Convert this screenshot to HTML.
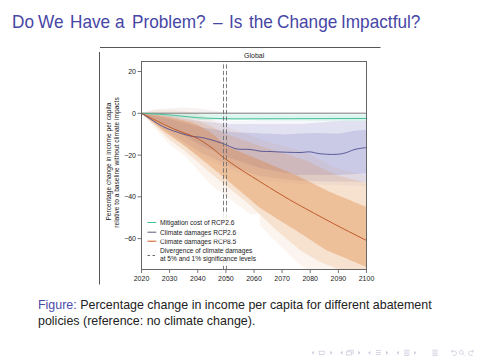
<!DOCTYPE html>
<html><head><meta charset="utf-8"><style>
html,body{margin:0;padding:0;background:#fff;}
body{width:480px;height:360px;position:relative;overflow:hidden;font-family:"Liberation Sans",sans-serif;}
.t{position:absolute;white-space:nowrap;}
#title .tw{position:absolute;white-space:nowrap;top:9.6px;font-size:18.5px;color:rgb(70,70,165);line-height:24px;transform:scaleX(0.93);transform-origin:0 0;}
#cap{left:38px;top:297px;font-size:12.9px;color:#222;line-height:15.6px;transform:scaleX(0.966);transform-origin:0 0;}
#cap .f{color:rgb(75,75,170);}
svg text{font-family:"Liberation Sans",sans-serif;fill:#222;}
.tk{font-size:7px;}
.lg{font-size:6.6px;}
</style></head><body>
<div id="title"><span class="tw" style="left:11.97px">Do</span><span class="tw" style="left:37.50px">We</span><span class="tw" style="left:70.32px">Have</span><span class="tw" style="left:115.32px">a</span><span class="tw" style="left:131.57px">Problem?</span><span class="tw" style="left:212.50px">&#8211;</span><span class="tw" style="left:228.57px">Is</span><span class="tw" style="left:248.75px">the</span><span class="tw" style="left:276.57px">Change</span><span class="tw" style="left:340.57px">Impactful?</span></div>
<svg width="480" height="360" style="position:absolute;left:0;top:0">
<line x1="100" y1="47.5" x2="380.5" y2="47.5" stroke="#555" stroke-width="1"/>
<line x1="99.5" y1="52" x2="99.5" y2="284.5" stroke="#555" stroke-width="1"/>
<text x="244" y="58" class="lg" style="font-size:7px">Global</text>
<defs><clipPath id="cp"><rect x="141.5" y="61.5" width="225" height="208"/></clipPath></defs>
<g clip-path="url(#cp)">
<path d="M141.5,113.3 L144.0,113.4 L146.5,113.5 L149.0,113.6 L151.5,113.7 L154.0,113.8 L156.5,113.9 L159.0,114.0 L161.5,114.1 L164.0,114.2 L166.5,114.4 L169.0,114.5 L171.5,114.7 L174.0,115.1 L176.5,115.5 L179.0,115.8 L181.5,116.2 L184.0,116.6 L186.5,117.0 L189.0,117.3 L191.5,117.7 L194.0,118.1 L196.5,118.5 L199.0,118.8 L201.5,119.1 L204.0,119.3 L206.5,119.4 L209.0,119.6 L211.5,119.8 L214.0,119.9 L216.5,120.1 L219.0,120.3 L221.5,120.4 L224.0,120.6 L226.5,120.8 L229.0,120.9 L231.5,121.0 L234.0,121.0 L236.5,121.0 L239.0,120.9 L241.5,120.9 L244.0,120.9 L246.5,120.9 L249.0,120.9 L251.5,120.8 L254.0,120.8 L256.5,120.8 L259.0,120.8 L261.5,120.8 L264.0,120.8 L266.5,120.7 L269.0,120.7 L271.5,120.7 L274.0,120.7 L276.5,120.7 L279.0,120.7 L281.5,120.6 L284.0,120.6 L286.5,120.6 L289.0,120.6 L291.5,120.6 L294.0,120.5 L296.5,120.5 L299.0,120.5 L301.5,120.5 L304.0,120.5 L306.5,120.5 L309.0,120.5 L311.5,120.5 L314.0,120.5 L316.5,120.5 L319.0,120.5 L321.5,120.5 L324.0,120.5 L326.5,120.5 L329.0,120.5 L331.5,120.5 L334.0,120.5 L336.5,120.5 L339.0,120.5 L341.5,120.5 L344.0,120.5 L346.5,120.5 L349.0,120.5 L351.5,120.5 L354.0,120.5 L356.5,120.5 L359.0,120.5 L361.5,120.5 L364.0,120.5 L366.5,120.5 L366.5,186.0 L364.0,185.9 L361.5,185.8 L359.0,185.8 L356.5,185.7 L354.0,185.6 L351.5,185.5 L349.0,185.5 L346.5,185.4 L344.0,185.3 L341.5,185.2 L339.0,185.2 L336.5,185.1 L334.0,185.0 L331.5,184.9 L329.0,184.9 L326.5,184.8 L324.0,184.7 L321.5,184.6 L319.0,184.6 L316.5,184.5 L314.0,184.4 L311.5,184.3 L309.0,184.3 L306.5,184.2 L304.0,184.1 L301.5,184.0 L299.0,183.9 L296.5,183.7 L294.0,183.4 L291.5,183.2 L289.0,182.9 L286.5,182.7 L284.0,182.4 L281.5,182.2 L279.0,181.9 L276.5,181.7 L274.0,181.4 L271.5,181.2 L269.0,180.9 L266.5,180.7 L264.0,180.4 L261.5,180.2 L259.0,179.7 L256.5,178.8 L254.0,178.0 L251.5,177.2 L249.0,176.3 L246.5,175.5 L244.0,174.7 L241.5,173.8 L239.0,173.0 L236.5,172.2 L234.0,171.3 L231.5,170.5 L229.0,169.5 L226.5,168.4 L224.0,167.2 L221.5,166.0 L219.0,164.9 L216.5,163.7 L214.0,162.5 L211.5,161.4 L209.0,160.2 L206.5,159.0 L204.0,157.9 L201.5,156.7 L199.0,155.3 L196.5,153.7 L194.0,152.0 L191.5,150.3 L189.0,148.7 L186.5,147.0 L184.0,145.3 L181.5,143.7 L179.0,142.0 L176.5,140.3 L174.0,138.7 L171.5,137.0 L169.0,135.2 L166.5,133.2 L164.0,131.2 L161.5,129.2 L159.0,127.2 L156.5,125.2 L154.0,123.3 L151.5,121.3 L149.0,119.3 L146.5,117.3 L144.0,115.3 L141.5,113.3 Z" fill="rgb(110,110,190)" fill-opacity="0.06"/>
<path d="M141.5,113.3 L144.0,113.5 L146.5,113.8 L149.0,114.0 L151.5,114.2 L154.0,114.5 L156.5,114.7 L159.0,115.0 L161.5,115.2 L164.0,115.4 L166.5,115.7 L169.0,115.9 L171.5,116.2 L174.0,116.7 L176.5,117.1 L179.0,117.5 L181.5,117.9 L184.0,118.3 L186.5,118.8 L189.0,119.2 L191.5,119.6 L194.0,120.0 L196.5,120.4 L199.0,120.8 L201.5,121.2 L204.0,121.4 L206.5,121.7 L209.0,121.9 L211.5,122.2 L214.0,122.4 L216.5,122.7 L219.0,122.9 L221.5,123.2 L224.0,123.4 L226.5,123.7 L229.0,123.9 L231.5,124.0 L234.0,124.0 L236.5,124.0 L239.0,124.0 L241.5,124.0 L244.0,124.0 L246.5,124.0 L249.0,124.0 L251.5,124.0 L254.0,124.0 L256.5,124.0 L259.0,124.0 L261.5,124.0 L264.0,124.0 L266.5,124.0 L269.0,124.0 L271.5,124.0 L274.0,124.0 L276.5,124.0 L279.0,124.0 L281.5,124.0 L284.0,124.0 L286.5,124.0 L289.0,124.0 L291.5,124.0 L294.0,124.0 L296.5,124.0 L299.0,124.0 L301.5,123.9 L304.0,123.7 L306.5,123.5 L309.0,123.3 L311.5,123.1 L314.0,123.0 L316.5,122.8 L319.0,122.6 L321.5,122.4 L324.0,122.2 L326.5,122.0 L329.0,121.8 L331.5,121.6 L334.0,121.5 L336.5,121.3 L339.0,121.1 L341.5,121.0 L344.0,121.0 L346.5,121.0 L349.0,121.0 L351.5,121.0 L354.0,121.0 L356.5,121.0 L359.0,121.0 L361.5,121.0 L364.0,121.0 L366.5,121.0 L366.5,182.0 L364.0,182.0 L361.5,181.9 L359.0,181.9 L356.5,181.8 L354.0,181.8 L351.5,181.8 L349.0,181.7 L346.5,181.7 L344.0,181.7 L341.5,181.6 L339.0,181.6 L336.5,181.5 L334.0,181.5 L331.5,181.5 L329.0,181.4 L326.5,181.4 L324.0,181.4 L321.5,181.3 L319.0,181.3 L316.5,181.2 L314.0,181.2 L311.5,181.2 L309.0,181.1 L306.5,181.1 L304.0,181.1 L301.5,181.0 L299.0,180.9 L296.5,180.6 L294.0,180.2 L291.5,179.9 L289.0,179.6 L286.5,179.3 L284.0,179.0 L281.5,178.7 L279.0,178.4 L276.5,178.1 L274.0,177.8 L271.5,177.4 L269.0,177.1 L266.5,176.8 L264.0,176.5 L261.5,176.2 L259.0,175.7 L256.5,174.8 L254.0,174.0 L251.5,173.2 L249.0,172.3 L246.5,171.5 L244.0,170.7 L241.5,169.8 L239.0,169.0 L236.5,168.2 L234.0,167.3 L231.5,166.5 L229.0,165.5 L226.5,164.4 L224.0,163.2 L221.5,162.0 L219.0,160.9 L216.5,159.7 L214.0,158.5 L211.5,157.4 L209.0,156.2 L206.5,155.0 L204.0,153.9 L201.5,152.7 L199.0,151.4 L196.5,149.8 L194.0,148.2 L191.5,146.6 L189.0,145.0 L186.5,143.4 L184.0,141.9 L181.5,140.3 L179.0,138.7 L176.5,137.1 L174.0,135.5 L171.5,133.9 L169.0,132.3 L166.5,130.6 L164.0,128.9 L161.5,127.1 L159.0,125.4 L156.5,123.7 L154.0,121.9 L151.5,120.2 L149.0,118.5 L146.5,116.8 L144.0,115.0 L141.5,113.3 Z" fill="rgb(110,110,190)" fill-opacity="0.15"/>
<path d="M141.5,113.3 L144.0,113.8 L146.5,114.3 L149.0,114.8 L151.5,115.3 L154.0,115.8 L156.5,116.3 L159.0,116.8 L161.5,117.3 L164.0,117.8 L166.5,118.3 L169.0,118.8 L171.5,119.4 L174.0,120.1 L176.5,120.7 L179.0,121.4 L181.5,122.1 L184.0,122.7 L186.5,123.4 L189.0,124.1 L191.5,124.7 L194.0,125.4 L196.5,126.1 L199.0,126.7 L201.5,127.2 L204.0,127.7 L206.5,128.1 L209.0,128.5 L211.5,128.9 L214.0,129.3 L216.5,129.8 L219.0,130.2 L221.5,130.6 L224.0,131.0 L226.5,131.4 L229.0,131.8 L231.5,132.1 L234.0,132.2 L236.5,132.3 L239.0,132.4 L241.5,132.5 L244.0,132.6 L246.5,132.7 L249.0,132.8 L251.5,132.9 L254.0,133.0 L256.5,133.1 L259.0,133.3 L261.5,133.4 L264.0,133.5 L266.5,133.6 L269.0,133.7 L271.5,133.8 L274.0,133.9 L276.5,134.0 L279.0,134.1 L281.5,134.2 L284.0,134.4 L286.5,134.3 L289.0,134.2 L291.5,134.0 L294.0,133.9 L296.5,133.8 L299.0,133.6 L301.5,133.5 L304.0,133.3 L306.5,133.2 L309.0,133.1 L311.5,133.0 L314.0,133.1 L316.5,133.1 L319.0,133.2 L321.5,133.2 L324.0,133.2 L326.5,133.3 L329.0,133.3 L331.5,133.4 L334.0,133.4 L336.5,133.4 L339.0,133.5 L341.5,133.2 L344.0,132.7 L346.5,132.2 L349.0,131.7 L351.5,131.2 L354.0,130.7 L356.5,130.4 L359.0,130.3 L361.5,130.2 L364.0,130.1 L366.5,130.0 L366.5,173.5 L364.0,173.6 L361.5,173.7 L359.0,173.9 L356.5,174.0 L354.0,174.1 L351.5,174.2 L349.0,174.4 L346.5,174.5 L344.0,174.6 L341.5,174.7 L339.0,174.9 L336.5,175.0 L334.0,175.0 L331.5,175.0 L329.0,175.0 L326.5,175.0 L324.0,175.0 L321.5,175.0 L319.0,175.0 L316.5,175.0 L314.0,175.0 L311.5,175.0 L309.0,175.0 L306.5,175.0 L304.0,175.0 L301.5,175.0 L299.0,175.0 L296.5,175.0 L294.0,174.6 L291.5,174.1 L289.0,173.6 L286.5,173.2 L284.0,172.7 L281.5,172.2 L279.0,171.7 L276.5,171.2 L274.0,170.7 L271.5,170.2 L269.0,169.8 L266.5,169.3 L264.0,168.8 L261.5,168.3 L259.0,167.7 L256.5,166.8 L254.0,166.0 L251.5,165.2 L249.0,164.3 L246.5,163.5 L244.0,162.7 L241.5,161.8 L239.0,161.0 L236.5,160.2 L234.0,159.3 L231.5,158.5 L229.0,157.6 L226.5,156.5 L224.0,155.4 L221.5,154.3 L219.0,153.2 L216.5,152.2 L214.0,151.1 L211.5,150.0 L209.0,148.9 L206.5,147.8 L204.0,146.7 L201.5,145.7 L199.0,144.4 L196.5,142.9 L194.0,141.4 L191.5,139.9 L189.0,138.4 L186.5,136.9 L184.0,135.4 L181.5,133.9 L179.0,132.4 L176.5,130.9 L174.0,129.4 L171.5,127.9 L169.0,126.5 L166.5,125.3 L164.0,124.1 L161.5,122.9 L159.0,121.7 L156.5,120.5 L154.0,119.3 L151.5,118.1 L149.0,116.9 L146.5,115.7 L144.0,114.5 L141.5,113.3 Z" fill="rgb(110,110,190)" fill-opacity="0.2"/>
<path d="M141.5,113.3 L144.0,112.7 L146.5,112.1 L149.0,111.5 L151.5,110.9 L154.0,110.2 L156.5,110.0 L159.0,110.0 L161.5,110.0 L164.0,110.0 L166.5,110.0 L169.0,110.0 L171.5,110.0 L174.0,110.0 L176.5,110.2 L179.0,110.6 L181.5,111.0 L184.0,111.3 L186.5,111.7 L189.0,112.1 L191.5,112.5 L194.0,112.8 L196.5,113.6 L199.0,114.6 L201.5,115.6 L204.0,116.6 L206.5,117.6 L209.0,118.6 L211.5,119.7 L214.0,120.8 L216.5,121.9 L219.0,123.0 L221.5,124.2 L224.0,125.3 L226.5,126.4 L229.0,127.5 L231.5,128.6 L234.0,129.5 L236.5,130.4 L239.0,131.3 L241.5,132.3 L244.0,133.2 L246.5,134.1 L249.0,135.1 L251.5,136.0 L254.0,136.9 L256.5,137.8 L259.0,138.8 L261.5,139.7 L264.0,140.6 L266.5,141.4 L269.0,142.1 L271.5,142.8 L274.0,143.5 L276.5,144.2 L279.0,144.8 L281.5,145.5 L284.0,146.2 L286.5,146.9 L289.0,147.6 L291.5,148.3 L294.0,149.0 L296.5,149.7 L299.0,150.3 L301.5,151.0 L304.0,151.7 L306.5,152.8 L309.0,154.1 L311.5,155.4 L314.0,156.6 L316.5,157.9 L319.0,159.2 L321.5,160.5 L324.0,161.8 L326.5,163.1 L329.0,164.4 L331.5,165.7 L334.0,167.0 L336.5,168.1 L339.0,168.8 L341.5,169.4 L344.0,170.1 L346.5,170.8 L349.0,171.4 L351.5,172.1 L354.0,172.7 L356.5,173.4 L359.0,174.0 L361.5,174.7 L364.0,175.3 L366.5,176.0 L366.5,300.0 L364.0,299.0 L361.5,297.9 L359.0,296.9 L356.5,295.9 L354.0,294.9 L351.5,293.8 L349.0,292.8 L346.5,291.8 L344.0,290.8 L341.5,289.7 L339.0,288.7 L336.5,287.7 L334.0,286.6 L331.5,285.6 L329.0,284.3 L326.5,282.7 L324.0,281.0 L321.5,279.3 L319.0,277.7 L316.5,276.0 L314.0,274.3 L311.5,272.7 L309.0,271.0 L306.5,269.3 L304.0,267.7 L301.5,266.0 L299.0,264.0 L296.5,261.6 L294.0,259.2 L291.5,256.8 L289.0,254.3 L286.5,251.9 L284.0,249.5 L281.5,247.1 L279.0,244.7 L276.5,242.2 L274.0,239.8 L271.5,237.4 L269.0,235.0 L266.5,232.3 L264.0,229.6 L261.5,226.8 L259.0,224.0 L256.5,221.2 L254.0,218.4 L251.5,215.7 L249.0,213.2 L246.5,211.4 L244.0,209.5 L241.5,207.6 L239.0,205.8 L236.5,203.9 L234.0,202.0 L231.5,200.1 L229.0,198.2 L226.5,196.4 L224.0,194.5 L221.5,192.6 L219.0,190.8 L216.5,188.9 L214.0,187.0 L211.5,185.1 L209.0,182.9 L206.5,180.1 L204.0,177.3 L201.5,174.5 L199.0,171.7 L196.5,168.9 L194.0,166.1 L191.5,163.3 L189.0,160.5 L186.5,157.7 L184.0,155.3 L181.5,153.4 L179.0,151.6 L176.5,149.8 L174.0,147.9 L171.5,146.1 L169.0,143.9 L166.5,141.1 L164.0,138.3 L161.5,135.5 L159.0,132.8 L156.5,130.0 L154.0,127.2 L151.5,124.4 L149.0,121.6 L146.5,118.9 L144.0,116.1 L141.5,113.3 Z" fill="rgb(222,125,45)" fill-opacity="0.08"/>
<path d="M141.5,113.3 L144.0,113.5 L146.5,113.8 L149.0,114.0 L151.5,114.2 L154.0,114.5 L156.5,114.7 L159.0,115.0 L161.5,115.2 L164.0,115.4 L166.5,115.7 L169.0,115.9 L171.5,116.3 L174.0,116.7 L176.5,117.1 L179.0,117.6 L181.5,118.0 L184.0,118.5 L186.5,118.9 L189.0,119.3 L191.5,119.8 L194.0,120.3 L196.5,120.8 L199.0,121.3 L201.5,122.1 L204.0,123.2 L206.5,124.2 L209.0,125.3 L211.5,126.4 L214.0,127.5 L216.5,128.9 L219.0,130.2 L221.5,131.6 L224.0,132.9 L226.5,134.2 L229.0,135.1 L231.5,135.9 L234.0,136.8 L236.5,137.7 L239.0,138.6 L241.5,139.5 L244.0,140.4 L246.5,141.2 L249.0,142.1 L251.5,143.0 L254.0,143.9 L256.5,144.8 L259.0,145.6 L261.5,146.5 L264.0,147.2 L266.5,148.0 L269.0,148.8 L271.5,149.6 L274.0,150.4 L276.5,151.1 L279.0,151.9 L281.5,152.7 L284.0,153.5 L286.5,154.2 L289.0,155.0 L291.5,155.8 L294.0,156.6 L296.5,157.4 L299.0,158.1 L301.5,158.9 L304.0,159.7 L306.5,160.7 L309.0,161.9 L311.5,163.1 L314.0,164.4 L316.5,165.6 L319.0,166.8 L321.5,168.0 L324.0,169.2 L326.5,170.4 L329.0,171.6 L331.5,172.8 L334.0,174.0 L336.5,175.1 L339.0,175.8 L341.5,176.4 L344.0,177.1 L346.5,177.8 L349.0,178.4 L351.5,179.1 L354.0,179.7 L356.5,180.4 L359.0,181.0 L361.5,181.7 L364.0,182.3 L366.5,183.0 L366.5,280.0 L364.0,279.1 L361.5,278.1 L359.0,277.2 L356.5,276.3 L354.0,275.3 L351.5,274.4 L349.0,273.5 L346.5,272.6 L344.0,271.6 L341.5,270.6 L339.0,269.6 L336.5,268.6 L334.0,267.6 L331.5,266.6 L329.0,265.6 L326.5,264.6 L324.0,263.6 L321.5,262.6 L319.0,261.4 L316.5,259.9 L314.0,258.4 L311.5,256.9 L309.0,255.4 L306.5,253.9 L304.0,252.4 L301.5,250.9 L299.0,249.2 L296.5,247.1 L294.0,245.0 L291.5,242.9 L289.0,240.8 L286.5,238.7 L284.0,236.6 L281.5,234.5 L279.0,232.4 L276.5,230.3 L274.0,228.0 L271.5,225.6 L269.0,223.2 L266.5,220.8 L264.0,218.4 L261.5,216.0 L259.0,213.6 L256.5,211.2 L254.0,208.8 L251.5,206.4 L249.0,204.2 L246.5,202.2 L244.0,200.1 L241.5,198.1 L239.0,196.1 L236.5,194.1 L234.0,192.0 L231.5,190.0 L229.0,188.0 L226.5,186.0 L224.0,184.0 L221.5,181.9 L219.0,179.9 L216.5,177.9 L214.0,175.9 L211.5,173.8 L209.0,171.7 L206.5,169.5 L204.0,167.4 L201.5,165.2 L199.0,163.1 L196.5,160.9 L194.0,158.8 L191.5,156.6 L189.0,154.4 L186.5,152.3 L184.0,150.3 L181.5,148.4 L179.0,146.6 L176.5,144.8 L174.0,142.9 L171.5,141.1 L169.0,139.1 L166.5,136.7 L164.0,134.4 L161.5,132.0 L159.0,129.7 L156.5,127.4 L154.0,125.0 L151.5,122.7 L149.0,120.3 L146.5,118.0 L144.0,115.6 L141.5,113.3 Z" fill="rgb(222,125,45)" fill-opacity="0.16"/>
<path d="M141.5,113.3 L144.0,113.6 L146.5,113.9 L149.0,114.2 L151.5,114.5 L154.0,114.8 L156.5,115.1 L159.0,115.4 L161.5,115.8 L164.0,116.3 L166.5,116.8 L169.0,117.3 L171.5,117.8 L174.0,118.3 L176.5,118.8 L179.0,119.4 L181.5,120.0 L184.0,120.6 L186.5,121.2 L189.0,121.8 L191.5,122.6 L194.0,123.6 L196.5,124.6 L199.0,125.6 L201.5,126.9 L204.0,128.5 L206.5,130.0 L209.0,131.5 L211.5,133.1 L214.0,134.9 L216.5,137.2 L219.0,139.5 L221.5,141.8 L224.0,144.2 L226.5,146.2 L229.0,147.2 L231.5,148.3 L234.0,149.3 L236.5,150.3 L239.0,151.4 L241.5,152.4 L244.0,153.4 L246.5,154.4 L249.0,155.5 L251.5,156.5 L254.0,157.5 L256.5,158.6 L259.0,159.6 L261.5,160.6 L264.0,161.7 L266.5,162.8 L269.0,163.8 L271.5,164.9 L274.0,165.9 L276.5,167.0 L279.0,168.1 L281.5,169.1 L284.0,170.2 L286.5,171.3 L289.0,172.3 L291.5,173.4 L294.0,174.4 L296.5,175.5 L299.0,176.6 L301.5,177.8 L304.0,179.0 L306.5,180.2 L309.0,181.5 L311.5,182.8 L314.0,184.0 L316.5,185.2 L319.0,186.5 L321.5,187.8 L324.0,189.0 L326.5,190.2 L329.0,191.5 L331.5,192.6 L334.0,193.6 L336.5,194.7 L339.0,195.7 L341.5,196.7 L344.0,197.8 L346.5,198.8 L349.0,199.8 L351.5,200.8 L354.0,201.9 L356.5,202.9 L359.0,203.9 L361.5,204.9 L364.0,206.0 L366.5,207.0 L366.5,267.0 L364.0,266.0 L361.5,264.9 L359.0,263.9 L356.5,262.8 L354.0,261.8 L351.5,260.7 L349.0,259.7 L346.5,258.6 L344.0,257.6 L341.5,256.5 L339.0,255.5 L336.5,254.4 L334.0,253.4 L331.5,252.3 L329.0,251.3 L326.5,250.2 L324.0,248.7 L321.5,247.1 L319.0,245.4 L316.5,243.8 L314.0,242.2 L311.5,240.5 L309.0,238.9 L306.5,237.2 L304.0,235.6 L301.5,234.0 L299.0,232.4 L296.5,230.8 L294.0,229.3 L291.5,227.7 L289.0,226.2 L286.5,224.6 L284.0,223.0 L281.5,221.5 L279.0,219.9 L276.5,218.4 L274.0,216.8 L271.5,215.2 L269.0,213.6 L266.5,212.0 L264.0,210.4 L261.5,208.8 L259.0,207.2 L256.5,205.1 L254.0,202.9 L251.5,200.8 L249.0,198.6 L246.5,196.4 L244.0,194.3 L241.5,192.2 L239.0,190.1 L236.5,188.0 L234.0,185.9 L231.5,183.8 L229.0,181.7 L226.5,179.6 L224.0,177.5 L221.5,175.4 L219.0,173.3 L216.5,171.3 L214.0,169.2 L211.5,167.2 L209.0,165.2 L206.5,163.2 L204.0,161.2 L201.5,159.2 L199.0,157.2 L196.5,155.2 L194.0,153.2 L191.5,151.2 L189.0,149.2 L186.5,147.2 L184.0,145.3 L181.5,143.6 L179.0,141.8 L176.5,140.1 L174.0,138.3 L171.5,136.6 L169.0,134.8 L166.5,133.1 L164.0,131.2 L161.5,129.2 L159.0,127.2 L156.5,125.2 L154.0,123.2 L151.5,121.3 L149.0,119.3 L146.5,117.3 L144.0,115.3 L141.5,113.3 Z" fill="rgb(222,125,45)" fill-opacity="0.33"/>
<path d="M141.5,113.3 L144.0,113.3 L146.5,113.4 L149.0,113.4 L151.5,113.5 L154.0,113.5 L156.5,113.5 L159.0,113.6 L161.5,113.6 L164.0,113.6 L166.5,113.7 L169.0,113.7 L171.5,113.8 L174.0,113.8 L176.5,113.8 L179.0,113.9 L181.5,113.9 L184.0,114.0 L186.5,114.0 L189.0,114.0 L191.5,114.1 L194.0,114.1 L196.5,114.1 L199.0,114.2 L201.5,114.2 L204.0,114.2 L206.5,114.2 L209.0,114.2 L211.5,114.2 L214.0,114.2 L216.5,114.2 L219.0,114.2 L221.5,114.2 L224.0,114.2 L226.5,114.2 L229.0,114.3 L231.5,114.3 L234.0,114.3 L236.5,114.3 L239.0,114.3 L241.5,114.3 L244.0,114.3 L246.5,114.3 L249.0,114.3 L251.5,114.3 L254.0,114.3 L256.5,114.3 L259.0,114.3 L261.5,114.3 L264.0,114.3 L266.5,114.3 L269.0,114.3 L271.5,114.3 L274.0,114.3 L276.5,114.3 L279.0,114.3 L281.5,114.3 L284.0,114.4 L286.5,114.4 L289.0,114.4 L291.5,114.4 L294.0,114.4 L296.5,114.4 L299.0,114.4 L301.5,114.4 L304.0,114.4 L306.5,114.4 L309.0,114.4 L311.5,114.4 L314.0,114.4 L316.5,114.4 L319.0,114.4 L321.5,114.4 L324.0,114.4 L326.5,114.4 L329.0,114.4 L331.5,114.4 L334.0,114.4 L336.5,114.4 L339.0,114.5 L341.5,114.5 L344.0,114.5 L346.5,114.5 L349.0,114.5 L351.5,114.5 L354.0,114.5 L356.5,114.5 L359.0,114.5 L361.5,114.5 L364.0,114.5 L366.5,114.5 L366.5,121.0 L364.0,121.0 L361.5,121.0 L359.0,121.0 L356.5,120.9 L354.0,120.9 L351.5,120.9 L349.0,120.9 L346.5,120.9 L344.0,120.9 L341.5,120.8 L339.0,120.8 L336.5,120.8 L334.0,120.8 L331.5,120.8 L329.0,120.8 L326.5,120.8 L324.0,120.7 L321.5,120.7 L319.0,120.7 L316.5,120.7 L314.0,120.7 L311.5,120.7 L309.0,120.7 L306.5,120.6 L304.0,120.6 L301.5,120.6 L299.0,120.6 L296.5,120.6 L294.0,120.6 L291.5,120.5 L289.0,120.5 L286.5,120.5 L284.0,120.5 L281.5,120.5 L279.0,120.5 L276.5,120.5 L274.0,120.4 L271.5,120.4 L269.0,120.4 L266.5,120.4 L264.0,120.4 L261.5,120.4 L259.0,120.4 L256.5,120.3 L254.0,120.3 L251.5,120.3 L249.0,120.3 L246.5,120.3 L244.0,120.3 L241.5,120.2 L239.0,120.2 L236.5,120.2 L234.0,120.2 L231.5,120.2 L229.0,120.2 L226.5,120.2 L224.0,120.1 L221.5,120.1 L219.0,120.1 L216.5,120.1 L214.0,120.1 L211.5,120.1 L209.0,120.1 L206.5,120.0 L204.0,120.0 L201.5,120.0 L199.0,119.9 L196.5,119.6 L194.0,119.3 L191.5,119.0 L189.0,118.7 L186.5,118.5 L184.0,118.2 L181.5,117.9 L179.0,117.6 L176.5,117.3 L174.0,117.0 L171.5,116.7 L169.0,116.4 L166.5,116.2 L164.0,115.9 L161.5,115.6 L159.0,115.3 L156.5,115.0 L154.0,114.7 L151.5,114.4 L149.0,114.2 L146.5,113.9 L144.0,113.6 L141.5,113.3 Z" fill="rgb(60,200,160)" fill-opacity="0.18"/>
<path d="M141.5,113.3 L144.0,112.3 L146.5,111.4 L149.0,110.4 L151.5,109.8 L154.0,109.6 L156.5,109.3 L159.0,109.1 L161.5,108.8 L164.0,108.6 L166.5,108.4 L169.0,108.2 L171.5,108.1 L174.0,107.9 L176.5,107.7 L179.0,107.6 L181.5,107.5 L184.0,107.6 L186.5,107.7 L189.0,107.8 L191.5,107.9 L194.0,108.0 L196.5,108.2 L199.0,108.5 L201.5,108.9 L204.0,109.2 L206.5,109.5 L209.0,109.9 L211.5,110.2 L214.0,110.7 L216.5,111.1 L219.0,111.5 L221.5,111.9 L224.0,112.3 L226.5,112.6 L229.0,112.7 L231.5,112.8 L234.0,113.0 L236.5,113.1 L239.0,113.2 L241.5,113.3 L244.0,113.3 L246.5,113.3 L249.0,113.3 L251.5,113.3 L254.0,113.3 L256.5,113.3 L259.0,113.3 L261.5,113.3 L264.0,113.3 L266.5,113.3 L269.0,113.3 L271.5,113.3 L274.0,113.3 L276.5,113.3 L279.0,113.3 L281.5,113.3 L284.0,113.3 L286.5,113.3 L289.0,113.3 L291.5,113.3 L294.0,113.3 L296.5,113.3 L299.0,113.3 L301.5,113.3 L304.0,113.3 L306.5,113.3 L309.0,113.3 L311.5,113.3 L314.0,113.3 L316.5,113.3 L319.0,113.3 L321.5,113.3 L324.0,113.3 L326.5,113.3 L329.0,113.3 L331.5,113.3 L334.0,113.3 L336.5,113.3 L339.0,113.3 L341.5,113.3 L344.0,113.3 L346.5,113.3 L349.0,113.3 L351.5,113.3 L354.0,113.3 L356.5,113.3 L359.0,113.3 L361.5,113.3 L364.0,113.3 L366.5,113.3 L366.5,113.3 L364.0,113.3 L361.5,113.3 L359.0,113.3 L356.5,113.3 L354.0,113.3 L351.5,113.3 L349.0,113.3 L346.5,113.3 L344.0,113.3 L341.5,113.3 L339.0,113.3 L336.5,113.3 L334.0,113.3 L331.5,113.3 L329.0,113.3 L326.5,113.3 L324.0,113.3 L321.5,113.3 L319.0,113.3 L316.5,113.3 L314.0,113.3 L311.5,113.3 L309.0,113.3 L306.5,113.3 L304.0,113.3 L301.5,113.3 L299.0,113.3 L296.5,113.3 L294.0,113.3 L291.5,113.3 L289.0,113.3 L286.5,113.3 L284.0,113.3 L281.5,113.3 L279.0,113.3 L276.5,113.3 L274.0,113.3 L271.5,113.3 L269.0,113.3 L266.5,113.3 L264.0,113.3 L261.5,113.3 L259.0,113.3 L256.5,113.3 L254.0,113.3 L251.5,113.3 L249.0,113.3 L246.5,113.3 L244.0,113.3 L241.5,113.3 L239.0,113.3 L236.5,113.3 L234.0,113.3 L231.5,113.3 L229.0,113.3 L226.5,113.3 L224.0,113.3 L221.5,113.3 L219.0,113.3 L216.5,113.3 L214.0,113.3 L211.5,113.3 L209.0,113.3 L206.5,113.3 L204.0,113.3 L201.5,113.3 L199.0,113.3 L196.5,113.3 L194.0,113.3 L191.5,113.3 L189.0,113.3 L186.5,113.3 L184.0,113.3 L181.5,113.3 L179.0,113.3 L176.5,113.3 L174.0,113.3 L171.5,113.3 L169.0,113.3 L166.5,113.3 L164.0,113.3 L161.5,113.3 L159.0,113.3 L156.5,113.3 L154.0,113.3 L151.5,113.3 L149.0,113.3 L146.5,113.3 L144.0,113.3 L141.5,113.3 Z" fill="rgb(190,140,140)" fill-opacity="0.12"/>
<line x1="141.5" y1="113.2" x2="366.5" y2="113.2" stroke="#777" stroke-width="1"/>
<path d="M141.50,113.30 L144.58,113.47 L148.83,113.70 L153.88,113.97 L159.33,114.29 L164.83,114.63 L170.00,115.00 L174.91,115.42 L179.89,115.92 L184.91,116.45 L189.94,116.96 L194.98,117.43 L200.00,117.80 L205.00,118.08 L210.00,118.29 L215.00,118.45 L220.00,118.57 L225.00,118.67 L230.00,118.75 L234.11,118.81 L237.17,118.83 L240.22,118.83 L244.33,118.80 L250.57,118.78 L260.00,118.75 L274.56,118.72 L293.78,118.68 L315.12,118.62 L336.06,118.57 L354.03,118.53 L366.50,118.50" fill="none" stroke="rgb(60,185,145)" stroke-width="0.9" stroke-linejoin="round"/>
<path d="M141.50,113.30 L143.67,114.70 L146.72,116.68 L150.31,119.01 L154.11,121.42 L157.78,123.67 L161.00,125.50 L163.76,126.91 L166.33,128.09 L168.78,129.12 L171.17,130.03 L173.55,130.89 L176.00,131.75 L178.56,132.62 L181.19,133.45 L183.81,134.23 L186.37,134.95 L188.79,135.57 L191.00,136.10 L192.97,136.48 L194.74,136.73 L196.38,136.89 L197.93,137.02 L199.45,137.17 L201.00,137.40 L202.51,137.68 L203.91,137.96 L205.28,138.27 L206.70,138.61 L208.25,139.02 L210.00,139.50 L212.00,140.08 L214.20,140.73 L216.53,141.44 L218.91,142.20 L221.26,142.97 L223.50,143.75 L225.62,144.59 L227.69,145.52 L229.72,146.47 L231.76,147.37 L233.84,148.15 L236.00,148.75 L238.28,149.11 L240.67,149.28 L243.09,149.33 L245.50,149.33 L247.82,149.37 L250.00,149.50 L252.03,149.75 L253.96,150.06 L255.81,150.41 L257.59,150.74 L259.32,151.03 L261.00,151.25 L262.55,151.37 L263.93,151.43 L265.25,151.44 L266.63,151.44 L268.18,151.45 L270.00,151.50 L272.15,151.60 L274.56,151.71 L277.12,151.85 L279.78,151.98 L282.43,152.10 L285.00,152.20 L287.56,152.28 L290.19,152.36 L292.81,152.43 L295.37,152.48 L297.79,152.51 L300.00,152.50 L301.96,152.42 L303.70,152.28 L305.31,152.10 L306.85,151.95 L308.39,151.87 L310.00,151.90 L311.61,152.08 L313.15,152.38 L314.69,152.75 L316.30,153.13 L318.04,153.48 L320.00,153.75 L322.27,153.95 L324.81,154.13 L327.50,154.28 L330.19,154.38 L332.73,154.42 L335.00,154.40 L336.96,154.31 L338.70,154.17 L340.31,153.97 L341.85,153.71 L343.39,153.38 L345.00,153.00 L346.65,152.51 L348.28,151.90 L349.91,151.23 L351.56,150.56 L353.25,149.93 L355.00,149.40 L356.96,148.96 L359.15,148.57 L361.38,148.23 L363.46,147.93 L365.23,147.69 L366.50,147.50" fill="none" stroke="rgb(70,70,140)" stroke-width="0.85" stroke-linejoin="round"/>
<path d="M141.50,113.30 L143.67,114.39 L146.72,115.92 L150.31,117.72 L154.11,119.61 L157.78,121.43 L161.00,123.00 L163.76,124.33 L166.33,125.56 L168.78,126.71 L171.17,127.80 L173.55,128.86 L176.00,129.90 L178.56,130.92 L181.19,131.89 L183.81,132.82 L186.37,133.73 L188.79,134.62 L191.00,135.50 L192.94,136.34 L194.67,137.12 L196.25,137.88 L197.78,138.67 L199.33,139.53 L201.00,140.50 L202.77,141.58 L204.57,142.74 L206.41,143.97 L208.26,145.26 L210.13,146.61 L212.00,148.00 L213.83,149.44 L215.61,150.94 L217.41,152.50 L219.28,154.11 L221.29,155.78 L223.50,157.50 L225.98,159.32 L228.69,161.26 L231.53,163.25 L234.43,165.24 L237.28,167.18 L240.00,169.00 L242.41,170.59 L244.56,171.98 L246.66,173.31 L248.94,174.74 L251.65,176.42 L255.00,178.50 L259.19,181.11 L264.07,184.17 L269.38,187.47 L274.81,190.83 L280.12,194.07 L285.00,197.00 L289.42,199.58 L293.59,201.96 L297.62,204.22 L301.63,206.43 L305.72,208.66 L310.00,211.00 L314.49,213.45 L319.09,215.94 L323.78,218.47 L328.52,221.00 L333.27,223.52 L338.00,226.00 L343.05,228.61 L348.52,231.41 L354.00,234.19 L359.09,236.76 L363.39,238.93 L366.50,240.50" fill="none" stroke="rgb(185,80,30)" stroke-width="0.9" stroke-linejoin="round"/>
<line x1="223.5" y1="61.5" x2="223.5" y2="269.5" stroke="#707070" stroke-width="0.9" stroke-dasharray="4.4,2.1" stroke-dashoffset="3.7"/>
<line x1="226.5" y1="61.5" x2="226.5" y2="269.5" stroke="#707070" stroke-width="0.9" stroke-dasharray="4.4,2.1" stroke-dashoffset="3.7"/>
</g>
<rect x="141.5" y="61.5" width="225" height="208" fill="none" stroke="#666" stroke-width="1"/>
<line x1="137.5" y1="71.5" x2="141.5" y2="71.5" stroke="#666" stroke-width="0.9"/>
<text x="136" y="74.1" text-anchor="end" class="tk">20</text>
<line x1="137.5" y1="113.3" x2="141.5" y2="113.3" stroke="#666" stroke-width="0.9"/>
<text x="136" y="115.9" text-anchor="end" class="tk">0</text>
<line x1="137.5" y1="155.1" x2="141.5" y2="155.1" stroke="#666" stroke-width="0.9"/>
<text x="136" y="157.7" text-anchor="end" class="tk">−20</text>
<line x1="137.5" y1="196.8" x2="141.5" y2="196.8" stroke="#666" stroke-width="0.9"/>
<text x="136" y="199.4" text-anchor="end" class="tk">−40</text>
<line x1="137.5" y1="238.6" x2="141.5" y2="238.6" stroke="#666" stroke-width="0.9"/>
<text x="136" y="241.2" text-anchor="end" class="tk">−60</text>
<line x1="141.5" y1="269.5" x2="141.5" y2="273" stroke="#666" stroke-width="0.9"/>
<text x="141.5" y="280.7" text-anchor="middle" class="tk">2020</text>
<line x1="169.6" y1="269.5" x2="169.6" y2="273" stroke="#666" stroke-width="0.9"/>
<text x="169.6" y="280.7" text-anchor="middle" class="tk">2030</text>
<line x1="197.8" y1="269.5" x2="197.8" y2="273" stroke="#666" stroke-width="0.9"/>
<text x="197.8" y="280.7" text-anchor="middle" class="tk">2040</text>
<line x1="225.9" y1="269.5" x2="225.9" y2="273" stroke="#666" stroke-width="0.9"/>
<text x="225.9" y="280.7" text-anchor="middle" class="tk">2050</text>
<line x1="254.0" y1="269.5" x2="254.0" y2="273" stroke="#666" stroke-width="0.9"/>
<text x="254.0" y="280.7" text-anchor="middle" class="tk">2060</text>
<line x1="282.1" y1="269.5" x2="282.1" y2="273" stroke="#666" stroke-width="0.9"/>
<text x="282.1" y="280.7" text-anchor="middle" class="tk">2070</text>
<line x1="310.2" y1="269.5" x2="310.2" y2="273" stroke="#666" stroke-width="0.9"/>
<text x="310.2" y="280.7" text-anchor="middle" class="tk">2080</text>
<line x1="338.4" y1="269.5" x2="338.4" y2="273" stroke="#666" stroke-width="0.9"/>
<text x="338.4" y="280.7" text-anchor="middle" class="tk">2090</text>
<line x1="366.5" y1="269.5" x2="366.5" y2="273" stroke="#666" stroke-width="0.9"/>
<text x="366.5" y="280.7" text-anchor="middle" class="tk">2100</text>
<g transform="translate(111,161.6) rotate(-90)"><text x="0" y="0" text-anchor="middle" class="lg">Percentage change in income per capita</text></g>
<g transform="translate(119,162.5) rotate(-90)"><text x="0" y="0" text-anchor="middle" class="lg">relative to a baseline without climate impacts</text></g>
<rect x="144" y="214" width="116" height="51" fill="#fff" fill-opacity="0.85"/>
<line x1="147.5" y1="222.5" x2="156.3" y2="222.5" stroke="rgb(60,190,150)" stroke-width="1"/>
<text x="160" y="224.8" class="lg">Mitigation cost of RCP2.6</text>
<line x1="147.5" y1="232.2" x2="156.3" y2="232.2" stroke="rgb(90,90,125)" stroke-width="1"/>
<text x="160" y="234.5" class="lg">Climate damages RCP2.6</text>
<line x1="147.5" y1="241.2" x2="156.3" y2="241.2" stroke="rgb(210,90,30)" stroke-width="1"/>
<text x="160" y="243.5" class="lg">Climate damages RCP8.5</text>
<rect x="159" y="236.6" width="76" height="3.0" fill="#fff"/>
<line x1="147.5" y1="255.5" x2="156.3" y2="255.5" stroke="#444" stroke-width="0.8" stroke-dasharray="2.5,2.5"/>
<text x="160" y="253.1" class="lg">Divergence of climate damages</text>
<text x="160" y="261" class="lg">at 5% and 1% significance levels</text>
<g fill="none" stroke="rgb(205,205,222)" stroke-width="0.8">
<path d="M313.8,350.8 L311.5,352.8 L313.8,354.8 Z" fill="rgb(205,205,222)" stroke="none"/>
<rect x="319.2" y="351.2" width="5" height="3.2"/>
<path d="M330.2,350.8 L332.5,352.8 L330.2,354.8 Z" fill="rgb(205,205,222)" stroke="none"/>
<path d="M342.6,350.8 L340.3,352.8 L342.6,354.8 Z" fill="rgb(205,205,222)" stroke="none"/>
<rect x="346.3" y="351.8" width="5" height="3.2"/><path d="M347.8,351.8 V350.3 H353.3 V353.5 H351.3"/>
<path d="M358.2,350.8 L360.5,352.8 L358.2,354.8 Z" fill="rgb(205,205,222)" stroke="none"/>
<path d="M370.4,350.8 L368.1,352.8 L370.4,354.8 Z" fill="rgb(205,205,222)" stroke="none"/>
<path d="M376,350.5 H381 M376,352.5 H381 M376,354.5 H381" stroke-width="0.8"/>
<path d="M386,350.8 L388.3,352.8 L386,354.8 Z" fill="rgb(205,205,222)" stroke="none"/>
<path d="M398.8,350.8 L396.5,352.8 L398.8,354.8 Z" fill="rgb(205,205,222)" stroke="none"/>
<path d="M404,350.2 H409.5 M404,352 H409.5 M404,353.8 H409.5 M404,355.4 H409.5" stroke-width="0.8"/>
<path d="M414,350.8 L416.3,352.8 L414,354.8 Z" fill="rgb(205,205,222)" stroke="none"/>
<path d="M432.3,350.2 H437.8 M432.3,352 H437.8 M432.3,353.8 H437.8 M432.3,355.4 H437.8" stroke-width="0.8"/>
<path d="M451.5,351.3 H454.5 A2,2 0 0 1 454.5,355.3 H452.5 M451.5,351.3 L453,350 M451.5,351.3 L453,352.6"/>
<circle cx="461.3" cy="352.2" r="1.9"/><path d="M462.7,353.6 L464.6,355.5"/>
<path d="M473.5,351.3 H470.5 A2,2 0 0 0 470.5,355.3 H472.5 M473.5,351.3 L472,350 M473.5,351.3 L472,352.6"/>
</g>
</svg>
<div id="cap" class="t"><span class="f">Figure:</span> Percentage change in income per capita for different abatement<br>policies (reference: no climate change).</div>
</body></html>
